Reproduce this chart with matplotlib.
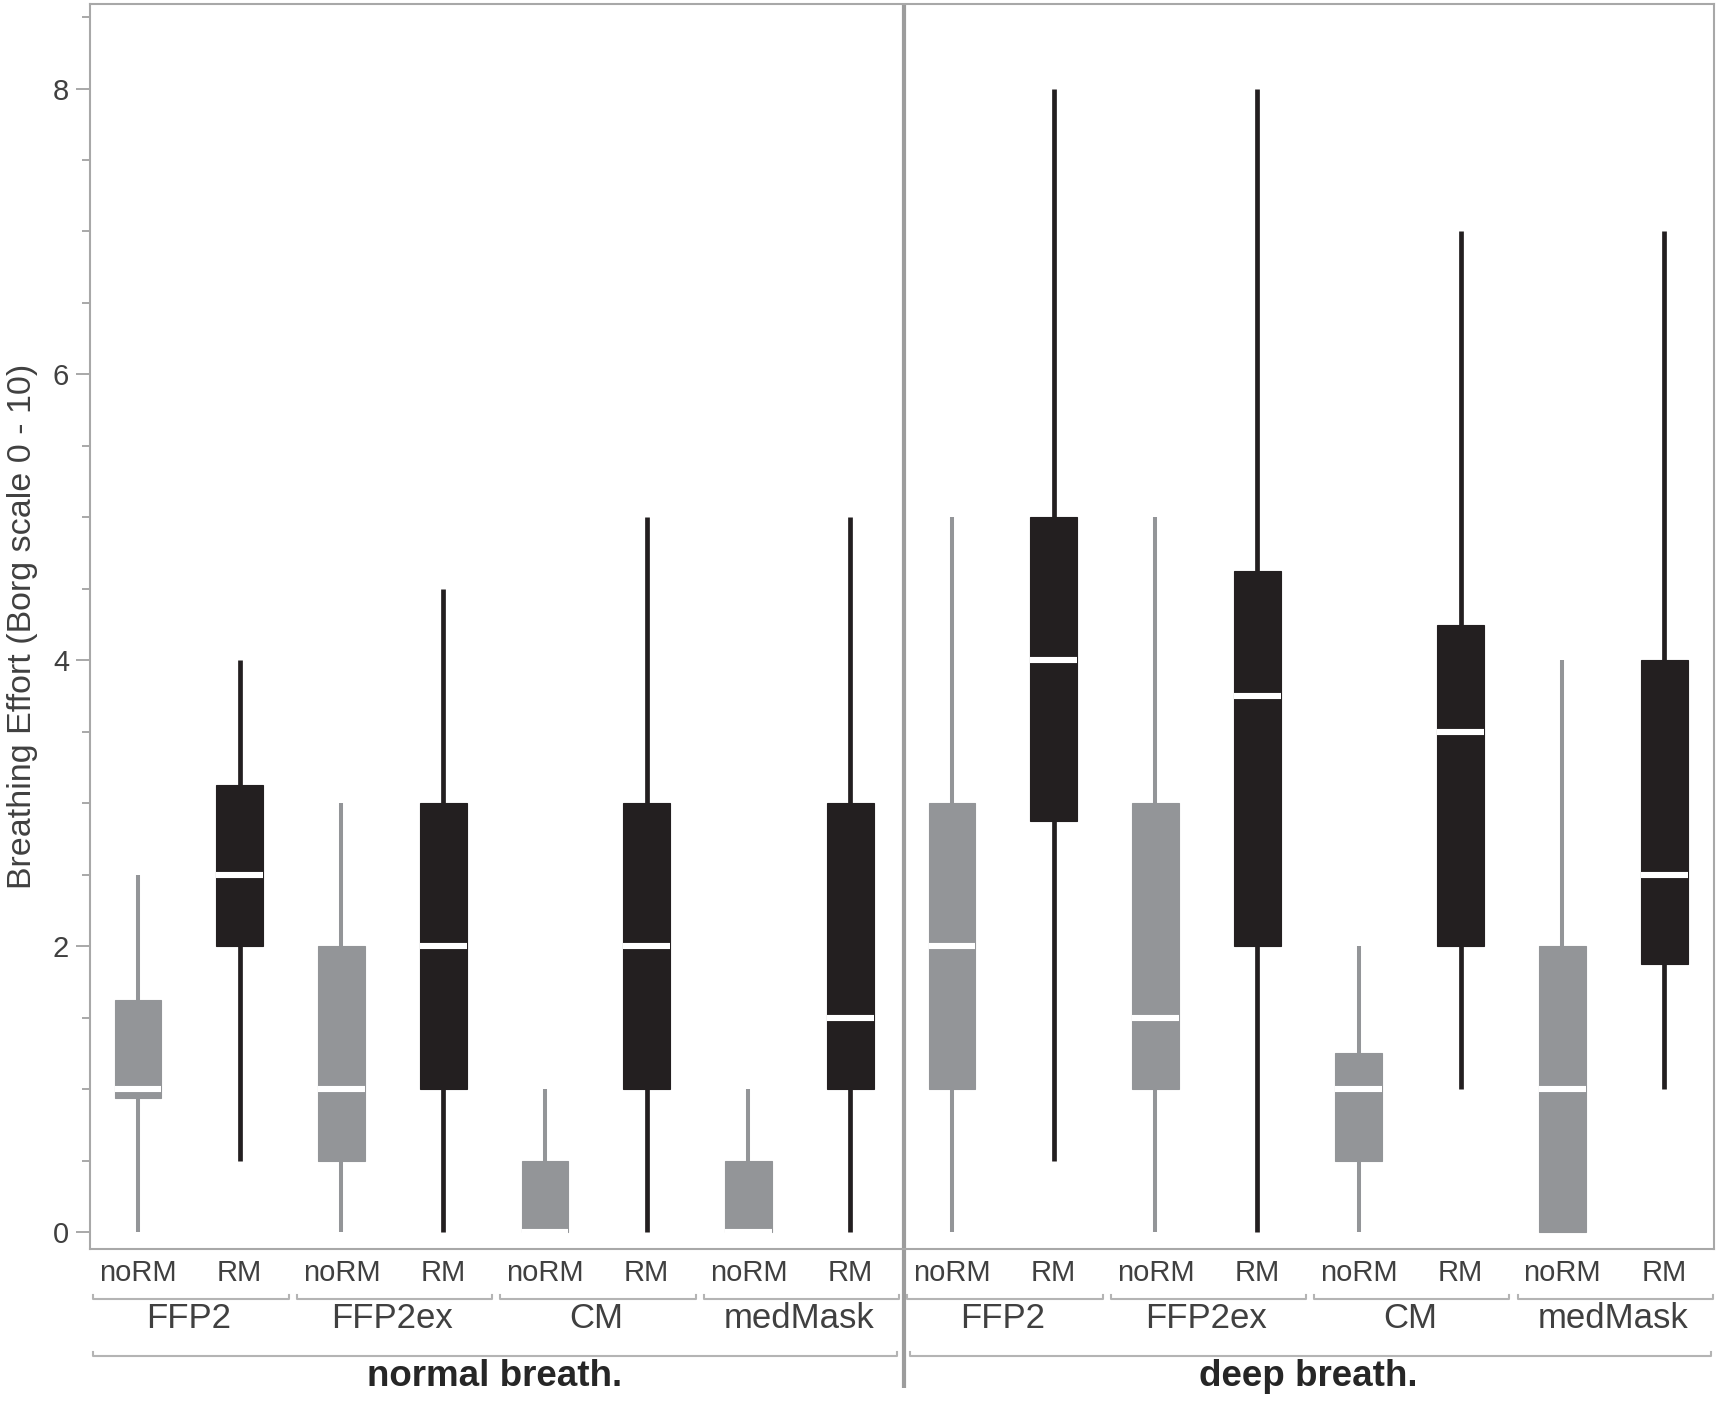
import numpy as np
import matplotlib.pyplot as plt
import matplotlib.transforms as mtransforms

# data (Borg scale), order: per breath, per mask, noRM then RM
breaths = ["normal breath.", "deep breath."]
masks = ["FFP2", "FFP2ex", "CM", "medMask"]
conditions = ["noRM", "RM"]

whislo = [0, 0.5, 0, 0, 0, 0, 0, 0,
          0, 0.5, 0, 0, 0, 1, 0, 1]
q1 = [0.94, 2, 0.5, 1, 0, 1, 0, 1,
      1, 2.875, 1, 2, 0.5, 2, 0, 1.875]
med = [1, 2.5, 1, 2, 0, 2, 0, 1.5,
       2, 4, 1.5, 3.75, 1, 3.5, 1, 2.5]
q3 = [1.625, 3.125, 2, 3, 0.5, 3, 0.5, 3,
      3, 5, 3, 4.625, 1.25, 4.25, 2, 4]
whishi = [2.5, 4, 3, 4.5, 1, 5, 1, 5,
          5, 8, 5, 8, 2, 7, 4, 7]

GRAY = "#939598"
BLACK = "#231f20"
FRAME = "#a8a8a8"
TXT = "#404040"

plt.rcParams["font.family"] = ["Liberation Sans", "DejaVu Sans"]

fig = plt.figure(figsize=(17.2, 14.01), dpi=100)
ax = fig.add_axes([0.0523, 0.1085, 0.9442, 0.8885])

n = len(med)
pos = np.arange(n)
stats = [dict(whislo=whislo[i], q1=q1[i], med=med[i], q3=q3[i],
              whishi=whishi[i], fliers=[]) for i in range(n)]

for k, color, wlw in [(0, GRAY, 2.9), (1, BLACK, 3.4)]:
    idx = pos[k::2]
    ax.bxp([stats[i] for i in idx], positions=idx, widths=0.46,
           patch_artist=True, showcaps=False, showfliers=False,
           boxprops=dict(facecolor=color, edgecolor=color, linewidth=0.8),
           whiskerprops=dict(color=color, linewidth=wlw, solid_capstyle="butt"),
           medianprops=dict(color="white", linewidth=4.4, solid_capstyle="butt"),
           manage_ticks=False)

ax.set_xlim(-0.472, 15.49)
ax.set_ylim(-0.119, 8.59)

ax.set_yticks([0, 2, 4, 6, 8])
ax.set_yticks(np.arange(0, 8.6, 0.5), minor=True)
ax.tick_params(axis="y", which="major", length=10, width=1.4, color=FRAME,
               labelsize=21, labelcolor=TXT, pad=5)
ax.tick_params(axis="y", which="minor", length=5.8, width=1.4, color=FRAME)

ax.set_xticks(pos)
ax.set_xticklabels(conditions * (n // 2))
ax.tick_params(axis="x", length=0, pad=7, labelsize=21, labelcolor=TXT)
for lab in ax.get_xticklabels():
    lab.set_family(["Liberation Sans Narrow", "Liberation Sans", "DejaVu Sans"])

for sp in ax.spines.values():
    sp.set_color(FRAME)
    sp.set_linewidth(1.5)

ax.set_ylabel("Breathing Effort (Borg scale 0 - 10)", fontsize=24.5, color=TXT)
ax.yaxis.set_label_coords(-0.032, 0.5)

trans = mtransforms.blended_transform_factory(ax.transData, ax.transAxes)
BR = "#b4b4b4"

# mask brackets and labels
for g in range(n // 2):
    x0, x1 = 2 * g - 0.44, 2 * g + 1.48
    yb = -0.0402
    ax.plot([x0, x0, x1, x1], [yb + 0.0035, yb, yb, yb + 0.0035], color=BR,
            lw=1.5, transform=trans, clip_on=False)
    ax.text(2 * g + 0.5, -0.0562, masks[g % 4], transform=trans, ha="center",
            va="center", fontsize=25, color=TXT)

# breath brackets and labels
for b in range(2):
    x0 = 8 * b - 0.44 + (0.03 if b else 0)
    x1 = 8 * b + 7.46
    yb = -0.0859
    ax.plot([x0, x0, x1, x1], [yb + 0.0035, yb, yb, yb + 0.0035], color=BR,
            lw=1.5, transform=trans, clip_on=False)
    ax.text(8 * b + 3.5, -0.1028, breaths[b], transform=trans, ha="center",
            va="center", fontsize=26.5, fontweight="bold", color="#262626")

# separator between the two breathing conditions
ax.plot([7.53, 7.53], [1.0, -0.112], color="#9c9c9c", lw=3.0,
        transform=trans, clip_on=False, solid_capstyle="butt")

fig.savefig("out.png", dpi=100, facecolor="white")
